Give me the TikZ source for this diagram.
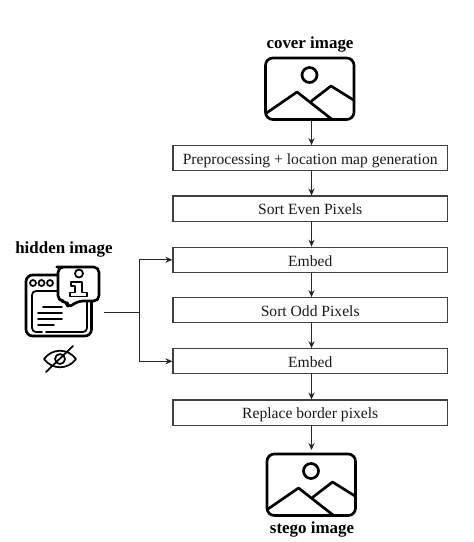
\documentclass[tikz,border=0pt]{standalone}
\usepackage{fontspec}
\setmainfont{Liberation Serif}
\usetikzlibrary{arrows.meta}
\newcommand{\boxtext}[1]{\raisebox{-4.7pt}[0pt][0pt]{#1}}
\tikzset{
 stepbox/.style={draw=black!75,line width=0.9pt,minimum width=205.9pt,minimum height=18.8pt,inner sep=0pt,font=\fontsize{11.7}{13}\selectfont,anchor=center,text=black!90},
 lbl/.style={font=\bfseries\fontsize{12.7}{14}\selectfont,inner sep=0pt},
 conn/.style={draw=black!85,line width=0.75pt,-{Stealth[length=5.2pt,width=4.6pt]}},
 plainconn/.style={draw=black!85,line width=0.75pt},
 icon/.style={line width=2pt,line join=round,line cap=round},
 thin icon/.style={line width=1.3pt,line cap=round,line join=round},
}
\newcommand{\pictureicon}[2]{%
 \begin{scope}[shift={(#1,#2)}]
  \draw[icon,rounded corners=5.5] (0,0) rectangle (88.5,61.5);
  \draw[icon] (44,17) circle (7.5);
  \draw[icon] (1,55) -- (31.5,34) -- (66,61);
  \draw[icon] (46,43) -- (65.5,28) -- (88,42);
 \end{scope}}
\begin{document}
\begin{tikzpicture}[x=0.75pt,y=-0.75pt]
\useasboundingbox (0,0) rectangle (474,542);
\node[stepbox] (b1) at (310.2,158.2) {\boxtext{Preprocessing + location map generation}};
\node[stepbox] (b2) at (310.2,208.6) {\boxtext{Sort Even Pixels}};
\node[stepbox] (b3) at (310.2,259.8) {\boxtext{Embed}};
\node[stepbox] (b4) at (310.2,310.2) {\boxtext{Sort Odd Pixels}};
\node[stepbox] (b5) at (310.2,361.3) {\boxtext{Embed}};
\node[stepbox] (b6) at (310.2,412.6) {\boxtext{Replace border pixels}};
\node[lbl] (cover) at (310,44) {cover image};
\node[lbl] (stego) at (312,529) {stego image};
\node[lbl] (hidden) at (64,249) {hidden image};
\pictureicon{265.5}{58}
\pictureicon{267}{454}
\coordinate (coverbot) at (311.5,119.5);
\coordinate (stegotop) at (311.5,450);
\draw[conn] (coverbot) -- (b1.north -| coverbot);
\draw[conn] (b1.south -| coverbot) -- (b2.north -| coverbot);
\draw[conn] (b2.south -| coverbot) -- (b3.north -| coverbot);
\draw[conn] (b3.south -| coverbot) -- (b4.north -| coverbot);
\draw[conn] (b4.south -| coverbot) -- (b5.north -| coverbot);
\draw[conn] (b5.south -| coverbot) -- (b6.north -| coverbot);
\draw[conn] (b6.south -| coverbot) -- (stegotop);
% hidden icon
\draw[icon,rounded corners=5] (26,275) rectangle (91.5,336);
\draw[thin icon,rounded corners=3] (42,332) -- (32,332) -- (32,291) -- (87,291) -- (87,332) -- (46,332);
\draw[thin icon] (33,283) circle (3) (41.5,283) circle (3) (50,283) circle (3);
\draw[thin icon] (43,307) -- (62,307) (38,313) -- (62,313) (38,319) -- (62,319) (38,325) -- (54,325);
\draw[icon,fill=white,rounded corners=4] (62,267) -- (99,267) -- (99,301) -- (78,301) -- (68,308) -- (67,301) -- (58,301) -- (58,267) -- cycle;
\draw[thin icon] (79,273.5) circle (4);
\draw[thin icon] (71,282) -- (82,282) -- (82,292.5) -- (87,292.5) -- (87,296.5) -- (70,296.5) -- (70,292.5) -- (75,292.5) -- (75,286) -- (71,286) -- cycle;
\draw[thin icon] (44,359) .. controls (52,348) and (68,348) .. (76,359) .. controls (68,370) and (52,370) .. (44,359) -- cycle;
\draw[thin icon] (60,359) circle (5);
\draw[thin icon] (46,372) -- (73,346);
\coordinate (hiddenout) at (104,312);
\coordinate (branch) at (139,312);
\draw[plainconn] (hiddenout) -- (branch);
\draw[conn] (branch) |- (b3.west);
\draw[conn] (branch) |- (b5.west);
\end{tikzpicture}
\end{document}
